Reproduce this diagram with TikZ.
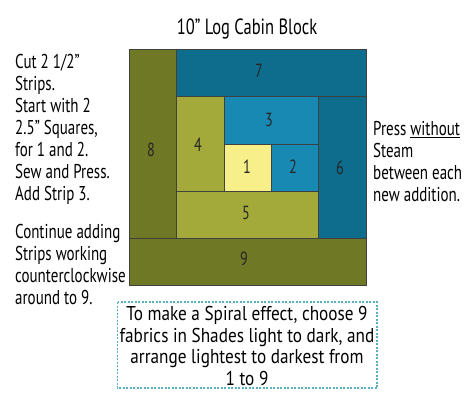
\documentclass[tikz,border=0pt]{standalone}
\usepackage{fontspec}
\setmainfont[FakeStretch=0.75]{PT Sans}
\newfontfamily\widefont[FakeStretch=0.86]{PT Sans}
\definecolor{cYellow}{HTML}{F7F08A}
\definecolor{cBlue}{HTML}{1789B3}
\definecolor{cTeal}{HTML}{0E6C8C}
\definecolor{cOlive}{HTML}{A3AA3A}
\definecolor{cDark}{HTML}{6F7824}
\definecolor{cDash}{HTML}{5AAFC0}
\newcommand{\myul}[1]{\underline{#1}}
\begin{document}
\begin{tikzpicture}[x=1pt,y=-1pt,
  piece/.style={draw=black!75,line width=0.6pt},
  num/.style={font=\fontsize{19}{19}\selectfont,text=black!85},
  note/.style={font=\fontsize{20}{22}\selectfont,align=left,inner sep=0pt},
]
\useasboundingbox (0,0) rectangle (474,401);
% pieces
\fill[cDark,piece] (129,238) rectangle (366,285);
\fill[cDark,piece] (129,49) rectangle (176.5,238);
\fill[cTeal,piece] (176.5,49) rectangle (366,96.5);
\fill[cTeal,piece] (318,96.5) rectangle (366,238);
\fill[cOlive,piece] (176.5,191) rectangle (318,238);
\fill[cOlive,piece] (176.5,96.5) rectangle (224,191);
\fill[cBlue,piece] (224,96.5) rectangle (318,144);
\fill[cBlue,piece] (271,144) rectangle (318,191);
\fill[cYellow,piece] (224,144) rectangle (271,191);
% numbers
\node[num] (n1) at (247,167) {1};
\node[num] (n2) at (293,167) {2};
\node[num] (n3) at (269,120) {3};
\node[num] (n4) at (198,145) {4};
\node[num] (n5) at (246,213) {5};
\node[num] (n6) at (340,168) {6};
\node[num] (n7) at (259,71) {7};
\node[num] (n8) at (151,150) {8};
\node[num] (n9) at (244,259) {9};
% title
\node[font=\fontsize{22}{22}\selectfont] (title) at (247,29) {10\textquotedblright{} Log Cabin Block};
% left notes
\node[note,anchor=north west] (left1) at (15,54) {Cut 2 1/2\textquotedblright\\Strips.\\Start with 2\\2.5\textquotedblright{} Squares,\\for 1 and 2.\\Sew and Press.\\Add Strip 3.};
\node[note,anchor=north west] (left2) at (15,224) {Continue adding\\Strips working\\counterclockwise\\around to 9.};
% right notes
\node[note,anchor=north west] (right) at (373,121) {Press \myul{without}\\Steam\\between each\\new addition.};
% bottom box
\draw[cDash,line width=1.2pt,dash pattern=on 2pt off 1.5pt] (117.5,302) rectangle (377,388);
\node[note,align=center,font=\widefont\fontsize{20}{21.7}\selectfont] (bottom) at (247,346) {To make a Spiral effect, choose 9\\fabrics in Shades light to dark, and\\arrange lightest to darkest from\\1 to 9};
\end{tikzpicture}
\end{document}
